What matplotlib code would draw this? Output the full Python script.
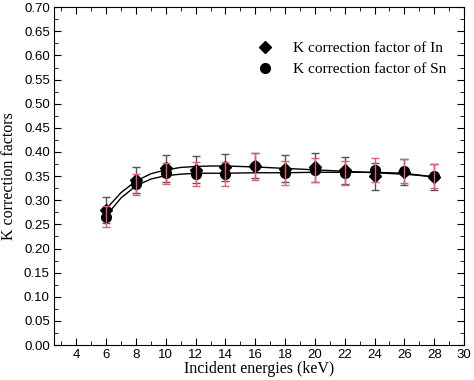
import matplotlib
matplotlib.use("Agg")
import matplotlib.pyplot as plt
from matplotlib.ticker import MultipleLocator, FormatStrFormatter

# Measured points
energy = [6, 8, 10, 12, 14, 16, 18, 20, 22, 24, 26, 28]
k_in = [0.280, 0.342, 0.366, 0.363, 0.368, 0.372, 0.365, 0.368, 0.362, 0.350, 0.359, 0.348]
err_in = [0.027, 0.027, 0.028, 0.028, 0.028, 0.025, 0.028, 0.030, 0.028, 0.028, 0.027, 0.027]
k_sn = [0.266, 0.333, 0.356, 0.355, 0.354, 0.370, 0.356, 0.362, 0.357, 0.362, 0.360, 0.350]
err_sn = [0.022, 0.022, 0.022, 0.025, 0.025, 0.028, 0.025, 0.025, 0.025, 0.025, 0.025, 0.025]

# Fit curves
fit_x = [6, 7, 8, 9, 10, 11, 12, 13, 14, 16, 18, 20, 22, 24, 26, 28]
fit_in = [0.282, 0.316, 0.340, 0.355, 0.363, 0.368, 0.370, 0.371, 0.371, 0.369, 0.366, 0.363, 0.360, 0.357, 0.354, 0.349]
fit_sn = [0.268, 0.305, 0.330, 0.344, 0.351, 0.354, 0.356, 0.356, 0.356, 0.357, 0.357, 0.358, 0.358, 0.358, 0.356, 0.348]

fig = plt.figure(figsize=(4.74, 3.8), dpi=100)
ax = fig.add_axes([0.114, 0.092, 0.865, 0.889])

ax.plot(fit_x, fit_in, color="black", lw=1.0, zorder=2)
ax.plot(fit_x, fit_sn, color="black", lw=1.0, zorder=2)

ax.errorbar(energy, k_in, yerr=err_in, fmt="none", ecolor="#555555", elinewidth=1.0,
            capsize=3, capthick=1.0, zorder=3)
ax.plot(energy, k_in, "D", color="black", ms=6, zorder=4, label="K correction factor of In")
ax.plot(energy, k_sn, "o", color="black", ms=7, zorder=4, label="K correction factor of Sn")
ax.errorbar(energy, k_sn, yerr=err_sn, fmt="none", ecolor="#e06070", elinewidth=1.0,
            capsize=3, capthick=1.0, zorder=5)

ax.set_xlim(2.5, 30)
ax.set_ylim(0, 0.70)
ax.set_xticks(range(4, 31, 2))
ax.xaxis.set_minor_locator(MultipleLocator(1))
ax.yaxis.set_major_locator(MultipleLocator(0.05))
ax.yaxis.set_minor_locator(MultipleLocator(0.025))
ax.yaxis.set_major_formatter(FormatStrFormatter("%.2f"))
ax.tick_params(which="both", direction="in", top=True, right=True)
ax.tick_params(which="major", length=5, labelsize=9.5, pad=3)
ax.tick_params(which="minor", length=3)
for lbl in ax.get_xticklabels() + ax.get_yticklabels():
    lbl.set_family("Liberation Sans")

ax.set_xlabel("Incident energies (keV)", family="Liberation Serif", fontsize=11.5, labelpad=0)
ax.set_ylabel("K correction factors", family="Liberation Serif", fontsize=11.5, labelpad=5)

ax.legend(loc="upper right", bbox_to_anchor=(0.99, 0.94), frameon=False,
          prop={"family": "Liberation Serif", "size": 11}, handletextpad=0.8, labelspacing=0.5)

fig.savefig("out.png", dpi=100)
